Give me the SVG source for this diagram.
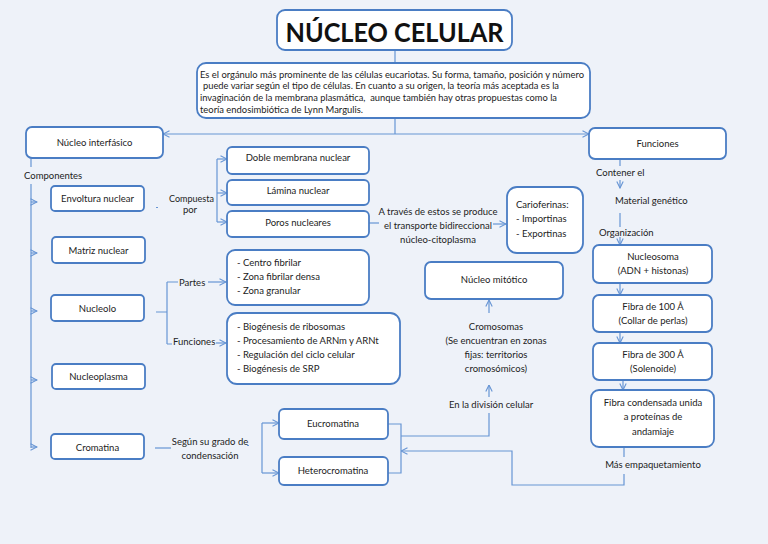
<svg xmlns="http://www.w3.org/2000/svg" width="768" height="544" viewBox="0 0 768 544">
<defs>
<marker id="arr" viewBox="0 0 8 8" refX="7.5" refY="4" markerWidth="8" markerHeight="8" markerUnits="userSpaceOnUse" orient="auto">
<path d="M1,0.8 L7.5,4 L1,7.2" fill="none" stroke="#6795d4" stroke-width="1.1"/>
</marker>
</defs>
<style>
.bg{fill:#eef2f9}
.box{fill:#ffffff;stroke:#4a7dc4;stroke-width:1.8}
.c{fill:none;stroke:#6795d4;stroke-width:1.2}
.a{marker-end:url(#arr)}
text{font-family:Lato,"Noto Sans","Liberation Sans",sans-serif;font-size:9.5px;fill:#222;white-space:pre}
.m{text-anchor:middle}
.t{font-size:27px;font-weight:bold;fill:#111}
</style>
<rect class="bg" x="0" y="0" width="768" height="544"/>

<g id="connectors">
<line class="c" x1="395" y1="50" x2="395" y2="63"/>
<line class="c" x1="395" y1="118" x2="395" y2="134"/>
<line class="c a" x1="395" y1="134" x2="163" y2="134"/>
<line class="c a" x1="395" y1="134" x2="589" y2="134"/>
<line class="c" x1="31" y1="158" x2="31" y2="167"/>
<path class="c" d="M31,184 V448"/>
<line class="c a" x1="31" y1="202" x2="37" y2="202"/>
<line class="c a" x1="31" y1="253" x2="37" y2="253"/>
<line class="c a" x1="31" y1="311" x2="37" y2="311"/>
<line class="c a" x1="31" y1="380" x2="37" y2="380"/>
<path class="c a" d="M31,447 H37"/>
<line class="c" x1="156" y1="207.5" x2="158" y2="207.5"/>
<path class="c" d="M217,159 V222"/>
<line class="c a" x1="217" y1="159" x2="227" y2="159"/>
<line class="c a" x1="217" y1="193" x2="227" y2="193"/>
<line class="c a" x1="217" y1="222" x2="227" y2="222"/>
<line class="c" x1="369" y1="223" x2="379" y2="223"/>
<line class="c a" x1="493" y1="224" x2="506" y2="224"/>
<path class="c" d="M156,312 H167 M167,282 V344 M167,282 H178 M167,344 H172"/>
<line class="c a" x1="208" y1="282" x2="226" y2="282"/>
<line class="c a" x1="216" y1="343" x2="226" y2="343"/>
<line class="c" x1="155" y1="448" x2="171" y2="448"/>
<line class="c" x1="247" y1="445.5" x2="249" y2="445.5"/>
<path class="c" d="M262,423 V473"/>
<line class="c a" x1="262" y1="423" x2="279" y2="423"/>
<line class="c a" x1="262" y1="473" x2="279" y2="473"/>
<path class="c" d="M388,424 H401 V473 H388 M401,436 H489 V413"/>
<line class="c a" x1="489" y1="397" x2="489" y2="385"/>
<line class="c a" x1="489" y1="313" x2="489" y2="300"/>
<path class="c a" d="M624,474 V485 H512 V451 H401"/>
<line class="c" x1="624" y1="447" x2="624" y2="457"/>
<line class="c" x1="620" y1="159" x2="620" y2="166"/>
<line class="c a" x1="620" y1="180" x2="620" y2="188"/>
<line class="c" x1="620" y1="213" x2="620" y2="227"/>
<line class="c a" x1="620" y1="237" x2="620" y2="245"/>
<line class="c a" x1="620" y1="284" x2="620" y2="295"/>
<line class="c a" x1="620" y1="333" x2="620" y2="343"/>
<line class="c a" x1="623" y1="381" x2="623" y2="390"/>
</g>

<g id="title"><rect class="box" x="277" y="10" width="235" height="40" rx="8"/><text class="t m" x="394.5" y="42" textLength="218" lengthAdjust="spacingAndGlyphs">NÚCLEO CELULAR</text></g>
<g id="descripcion"><rect class="box" x="197" y="63" width="393" height="55" rx="9"/>
<text x="200" y="77.5" textLength="384" lengthAdjust="spacingAndGlyphs">Es el orgánulo más prominente de las células eucariotas. Su forma, tamaño, posición y número</text>
<text x="203" y="89" textLength="356" lengthAdjust="spacingAndGlyphs">puede variar según el tipo de células. En cuanto a su origen, la teoría más aceptada es la</text>
<text x="200" y="100.5" textLength="357" lengthAdjust="spacingAndGlyphs">invaginación de la membrana plasmática,  aunque también hay otras propuestas como la</text>
<text x="200" y="112.5" textLength="163" lengthAdjust="spacingAndGlyphs">teoría endosimbiótica de Lynn Margulis.</text></g>

<g id="nucleo-interfasico"><rect class="box" x="26" y="127" width="137" height="31" rx="6"/><text class="m" x="94.5" y="146">Núcleo interfásico</text></g>
<g id="componentes-label"><text x="24" y="179">Componentes</text></g>
<g id="envoltura"><rect class="box" x="51" y="186" width="93" height="25" rx="4"/><text class="m" x="97.5" y="202">Envoltura nuclear</text></g>
<g id="matriz"><rect class="box" x="52" y="237" width="93" height="26" rx="4"/><text class="m" x="98.5" y="253.5">Matriz nuclear</text></g>
<g id="nucleolo"><rect class="box" x="51" y="295" width="93" height="26" rx="4"/><text class="m" x="97.5" y="311.5">Nucleolo</text></g>
<g id="nucleoplasma"><rect class="box" x="52" y="364" width="93" height="25" rx="4"/><text class="m" x="98.5" y="380">Nucleoplasma</text></g>
<g id="cromatina"><rect class="box" x="51" y="434" width="93" height="25" rx="4"/><text class="m" x="97.5" y="450.5">Cromatina</text></g>

<g id="compuesta-label"><text class="m" x="191.5" y="202" textLength="45" lengthAdjust="spacingAndGlyphs">Compuesta</text><text class="m" x="190" y="213">por</text></g>
<g id="doble-membrana"><rect class="box" x="227" y="147" width="142" height="27" rx="5"/><text class="m" x="298" y="161">Doble membrana nuclear</text></g>
<g id="lamina"><rect class="box" x="227" y="180" width="142" height="25" rx="5"/><text class="m" x="298" y="194">Lámina nuclear</text></g>
<g id="poros"><rect class="box" x="227" y="211" width="142" height="26" rx="5"/><text class="m" x="298" y="226">Poros nucleares</text></g>
<g id="transporte-label"><text class="m" x="438" y="215">A través de estos se produce</text><text class="m" x="438" y="228.5">el transporte bidireccional</text><text class="m" x="438" y="242.5">núcleo-citoplasma</text></g>
<g id="carioferinas"><rect class="box" x="507" y="187" width="76" height="66" rx="10"/><text x="516" y="208">Carioferinas:</text><text x="516" y="222">- Importinas</text><text x="516" y="236.5">- Exportinas</text></g>

<g id="partes-label"><text x="179" y="286">Partes</text></g>
<g id="funciones-label"><text x="173" y="345">Funciones</text></g>
<g id="partes"><rect class="box" x="227" y="250" width="142" height="55" rx="8"/><text x="237" y="266">- Centro fibrilar</text><text x="237" y="280">- Zona fibrilar densa</text><text x="237" y="293.5">- Zona granular</text></g>
<g id="funciones-nucleolo"><rect class="box" x="227" y="313" width="173" height="71" rx="10"/><text x="237" y="330">- Biogénesis de ribosomas</text><text x="237" y="344">- Procesamiento de ARNm y ARNt</text><text x="237" y="358">- Regulación del ciclo celular</text><text x="237" y="371.5">- Biogénesis de SRP</text></g>

<g id="grado-label"><text class="m" x="210" y="445">Según su grado de</text><text class="m" x="210" y="459">condensación</text></g>
<g id="eucromatina"><rect class="box" x="279" y="409" width="109" height="30" rx="5"/><text class="m" x="333" y="426.5">Eucromatina</text></g>
<g id="heterocromatina"><rect class="box" x="279" y="457" width="109" height="28" rx="5"/><text class="m" x="333" y="473.5">Heterocromatina</text></g>

<g id="division-label"><text class="m" x="491" y="407.5">En la división celular</text></g>
<g id="cromosomas-label"><text class="m" x="496" y="329.5">Cromosomas</text><text class="m" x="496" y="344">(Se encuentran en zonas</text><text class="m" x="496" y="358">fijas: territorios</text><text class="m" x="496" y="371.5">cromosómicos)</text></g>
<g id="nucleo-mitotico"><rect class="box" x="425" y="262" width="138" height="37" rx="6"/><text class="m" x="494" y="282.5">Núcleo mitótico</text></g>

<g id="funciones"><rect class="box" x="589" y="128" width="137" height="31" rx="6"/><text class="m" x="657.5" y="146.5">Funciones</text></g>
<g id="contener-label"><text x="596" y="175.5">Contener el</text></g>
<g id="material-label"><text x="615" y="203.5">Material genético</text></g>
<g id="organizacion-label"><text x="599" y="235.5">Organización</text></g>
<g id="nucleosoma"><rect class="box" x="593" y="245" width="119" height="38" rx="6"/><text class="m" x="653" y="260">Nucleosoma</text><text class="m" x="653" y="274">(ADN + histonas)</text></g>
<g id="fibra100"><rect class="box" x="593" y="295" width="119" height="37" rx="6"/><text class="m" x="653" y="309.5">Fibra de 100 Å</text><text class="m" x="653" y="324">(Collar de perlas)</text></g>
<g id="fibra300"><rect class="box" x="593" y="343" width="119" height="37" rx="6"/><text class="m" x="653" y="357.5">Fibra de 300 Å</text><text class="m" x="653" y="372">(Solenoide)</text></g>
<g id="fibra-condensada"><rect class="box" x="591" y="390" width="123" height="57" rx="8"/><text class="m" x="653" y="406">Fibra condensada unida</text><text class="m" x="653" y="420">a proteínas de</text><text class="m" x="653" y="435">andamiaje</text></g>
<g id="empaquetamiento-label"><text class="m" x="653" y="467.5">Más empaquetamiento</text></g>
</svg>
